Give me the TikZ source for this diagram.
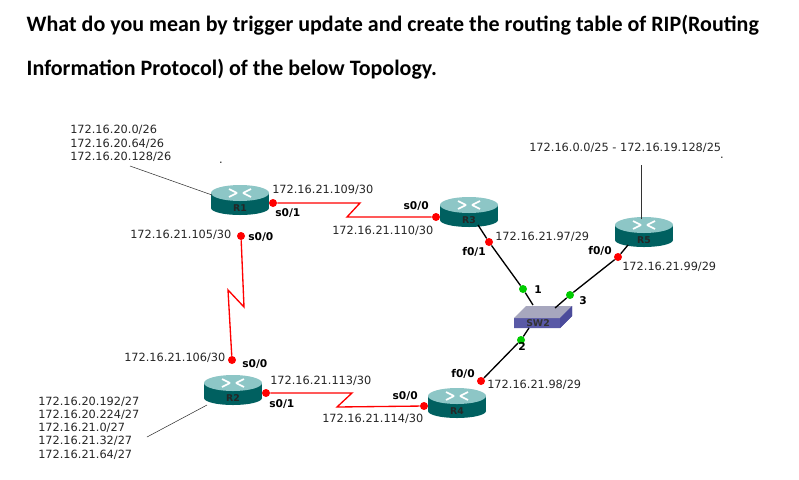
\documentclass[tikz,border=0pt]{standalone}
\usepackage{fontspec}
\setmainfont{DejaVu Sans}
\newfontfamily\titlefont{Carlito}
\begin{document}
\begin{tikzpicture}[x=0.75pt,y=-0.75pt,
  lbl/.style={font=\fontsize{8.5}{10}\selectfont,text=black!85,inner sep=0pt},
  ifc/.style={font=\bfseries\fontsize{8}{9}\selectfont,inner sep=0pt},
  red/.style={draw=red,line width=1pt},
  blk/.style={draw=black,line width=1pt},
  rdot/.style={circle,fill=red,inner sep=0pt,minimum size=6pt},
  gdot/.style={circle,fill=green!80!black,inner sep=0pt,minimum size=6pt}]
\useasboundingbox (0,0) rectangle (799,479);
\fill[white] (0,0) rectangle (799,479);
\node[anchor=west,font=\titlefont\bfseries\fontsize{16.5}{18}\selectfont] (t1) at (22,25) {What do you mean by trigger update and create the routing table of RIP(Routing};
\node[anchor=west,font=\titlefont\bfseries\fontsize{16.5}{18}\selectfont] (t2) at (22,69) {Information Protocol) of the below Topology.};
% routers
\newcommand{\router}[3]{%
  \fill[teal!75!black] (#1,#2+9) ellipse[x radius=29,y radius=7];
  \fill[teal!75!black] (#1-29,#2-6) rectangle (#1+29,#2+9);
  \fill[teal!35!white!85!teal] (#1,#2-6) ellipse[x radius=29,y radius=8];
  \draw[white,line width=1.2pt] (#1-11,#2-10)--(#1-3,#2-6) (#1+11,#2-10)--(#1+3,#2-6) (#1-11,#2-2)--(#1-3,#2-6) (#1+11,#2-2)--(#1+3,#2-6);
  \node[font=\bfseries\fontsize{7}{8}\selectfont,text=black!85] (#3) at (#1,#2+9) {#3};}
\router{240}{199}{R1}
\router{469}{211}{R3}
\router{644}{231}{R5}
\router{233}{389}{R2}
\router{457}{402}{R4}
% switch
\fill[blue!30!gray] (514,318) -- (514,328) -- (560,328) -- (572,316) -- (572,306) -- cycle;
\fill[blue!15!gray!60!white] (514,318) -- (526,306) -- (572,306) -- (560,318) -- cycle;
\fill[blue!35!gray!90!black] (560,318)--(560,328)--(572,316)--(572,306)--cycle;
\node[font=\bfseries\fontsize{7}{8}\selectfont,text=black!80] (sw) at (538,323) {SW2};
% dots
\node[rdot] (a1) at (273,203) {};
\node[rdot] (a2) at (436,217) {};
\node[rdot] (b1) at (241,236) {};
\node[rdot] (b2) at (232,360) {};
\node[rdot] (c1) at (266,393) {};
\node[rdot] (c2) at (424,406) {};
\node[rdot] (d1) at (489,242) {};
\node[rdot] (e1) at (618,257) {};
\node[rdot] (f1) at (481,381) {};
\node[gdot] (g1) at (523,289) {};
\node[gdot] (g3) at (570,295) {};
\node[gdot] (g2) at (521,340) {};
% links
\draw[red] (a1) -- (360,203) -- (347,217) -- (a2);
\draw[red] (b1) -- (244,307) -- (228,290) -- (b2);
\draw[red] (c1) -- (352,393) -- (337,407) -- (c2);
\draw[blk] (478,225) -- (d1) -- (g1) -- (533,305);
\draw[blk] (628,245) -- (e1) -- (g3) -- (555,308);
\draw[blk] (f1) -- (g2) -- (529,328);
\draw[black!80] (130,166) -- (212,195);
\draw[black!80] (641,165) -- (641,219);
\draw[black!80] (147,437) -- (207,405);
% labels
\node[lbl,anchor=west] at (70,130) {172.16.20.0/26};
\node[lbl,anchor=west] at (70,144) {172.16.20.64/26};
\node[lbl,anchor=west] at (70,157) {172.16.20.128/26};
\node[lbl] at (221,163) {.};
\node[lbl,anchor=west] at (529,148) {172.16.0.0/25 - 172.16.19.128/25};
\node[lbl] at (722,158) {.};
\node[lbl,anchor=west] at (272,190) {172.16.21.109/30};
\node[ifc,anchor=west] at (275,213) {s0/1};
\node[ifc,anchor=east] at (429,206) {s0/0};
\node[lbl,anchor=west] at (332,231) {172.16.21.110/30};
\node[lbl,anchor=west] at (130,235) {172.16.21.105/30};
\node[ifc,anchor=west] at (248,237) {s0/0};
\node[lbl,anchor=west] at (495,237) {172.16.21.97/29};
\node[ifc,anchor=east] at (486,252) {f0/1};
\node[ifc,anchor=east] at (612,251) {f0/0};
\node[lbl,anchor=west] at (622,267) {172.16.21.99/29};
\node[ifc] at (538,290) {1};
\node[ifc] at (583,301) {3};
\node[ifc] at (522,347) {2};
\node[lbl,anchor=west] at (124,358) {172.16.21.106/30};
\node[ifc,anchor=west] at (242,364) {s0/0};
\node[lbl,anchor=west] at (270,381) {172.16.21.113/30};
\node[ifc,anchor=west] at (269,404) {s0/1};
\node[ifc,anchor=east] at (418,396) {s0/0};
\node[lbl,anchor=west] at (322,419) {172.16.21.114/30};
\node[ifc,anchor=east] at (475,374) {f0/0};
\node[lbl,anchor=west] at (487,385) {172.16.21.98/29};
\node[lbl,anchor=west] at (38,402) {172.16.20.192/27};
\node[lbl,anchor=west] at (38,415) {172.16.20.224/27};
\node[lbl,anchor=west] at (38,428) {172.16.21.0/27};
\node[lbl,anchor=west] at (38,441) {172.16.21.32/27};
\node[lbl,anchor=west] at (38,455) {172.16.21.64/27};
\end{tikzpicture}
\end{document}
